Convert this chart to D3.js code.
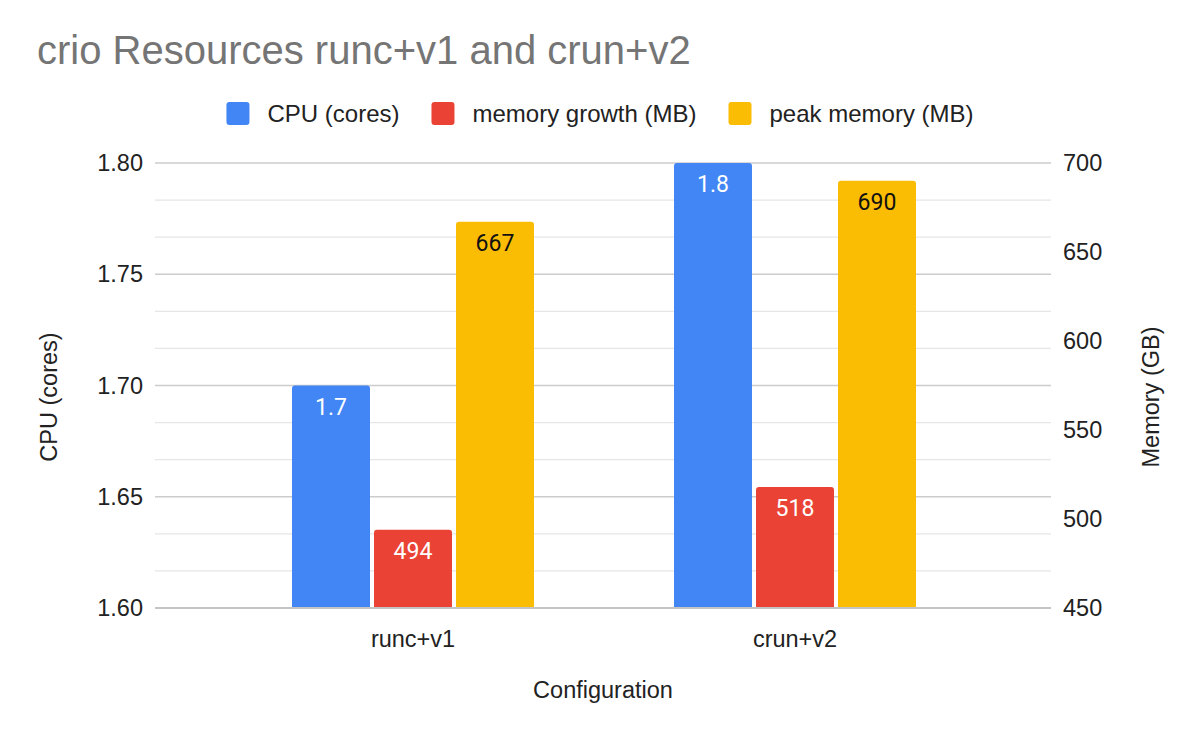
<!DOCTYPE html>
<html>
<head>
<meta charset="utf-8">
<script src="https://cdn.jsdelivr.net/npm/d3@7"></script>
<style>
  html, body { margin: 0; padding: 0; background: #fff; }
  svg { display: block; font-family: "Liberation Sans", Arial, sans-serif; }
</style>
</head>
<body>
<svg id="chart" width="1200" height="742"></svg>
<script>
// ---- data ----
const categories = ["runc+v1", "crun+v2"];
const seriesNames = ["CPU (cores)", "memory growth (MB)", "peak memory (MB)"];
const seriesColors = ["#4285F4", "#EA4335", "#FBBC04"];
const seriesAxis = ["left", "right", "right"];
const cpuValues = [1.7, 1.8];
const memGrowthValues = [494, 518];
const peakMemValues = [667, 690];
const leftTicks = [1.60, 1.65, 1.70, 1.75, 1.80];
const rightTicks = [450, 500, 550, 600, 650, 700];
const titleText = "crio Resources runc+v1 and crun+v2";
const xTitle = "Configuration";
const yLeftTitle = "CPU (cores)";
const yRightTitle = "Memory (GB)";

const seriesValues = [cpuValues, memGrowthValues, peakMemValues];

// ---- layout ----
const FONT = "'Liberation Sans', Arial, sans-serif";
const svg = d3.select("#chart");
const plot = { left: 155, right: 1051, top: 163, bottom: 608 };

const yLeft = d3.scaleLinear().domain([1.60, 1.80]).range([plot.bottom, plot.top]);
const yRight = d3.scaleLinear().domain([450, 700]).range([plot.bottom, plot.top]);

const x0 = d3.scaleBand().domain(categories).range([222, 986]).padding(0);
const groupW = 242;
const x1 = d3.scaleBand().domain(d3.range(seriesNames.length)).range([0, groupW])
  .paddingInner(4 / 82).paddingOuter(0);

// ---- gridlines (major + minor) ----
const minorTicks = [];
for (let i = 0; i < leftTicks.length - 1; i++) {
  const a = leftTicks[i], b = leftTicks[i + 1];
  minorTicks.push(a + (b - a) / 3, a + 2 * (b - a) / 3);
}
svg.append("g").selectAll("line").data(minorTicks).join("line")
  .attr("x1", plot.left).attr("x2", plot.right)
  .attr("y1", d => yLeft(d)).attr("y2", d => yLeft(d))
  .attr("stroke", "#e6e6e6").attr("stroke-width", 1.3);
svg.append("g").selectAll("line").data(leftTicks).join("line")
  .attr("x1", plot.left).attr("x2", plot.right)
  .attr("y1", d => yLeft(d)).attr("y2", d => yLeft(d))
  .attr("stroke", "#cccccc").attr("stroke-width", 1.5);

// ---- bars ----
function topRounded(x, y, w, h, r) {
  r = Math.min(r, h, w / 2);
  return `M${x},${y + h}V${y + r}Q${x},${y} ${x + r},${y}H${x + w - r}Q${x + w},${y} ${x + w},${y + r}V${y + h}Z`;
}
const bars = [];
categories.forEach((c, ci) => {
  seriesNames.forEach((s, si) => {
    bars.push({ cat: c, si, value: seriesValues[si][ci] });
  });
});
const groupOffset = (x0.bandwidth() - groupW) / 2;
const scaleFor = si => seriesAxis[si] === "left" ? yLeft : yRight;

const barG = svg.append("g");
barG.selectAll("path").data(bars).join("path")
  .attr("d", d => {
    const xx = x0(d.cat) + groupOffset + x1(d.si);
    const yy = scaleFor(d.si)(d.value);
    return topRounded(xx, yy, x1.bandwidth(), plot.bottom - yy, 3);
  })
  .attr("fill", d => seriesColors[d.si]);

barG.selectAll("text").data(bars).join("text")
  .attr("x", d => x0(d.cat) + groupOffset + x1(d.si) + x1.bandwidth() / 2)
  .attr("y", d => scaleFor(d.si)(d.value) + 29)
  .attr("text-anchor", "middle")
  .attr("font-family", "Roboto, sans-serif")
  .attr("font-size", 23)
  .attr("fill", d => d.si === 2 ? "#111" : "#fff")
  .text(d => d.si === 0 ? d3.format(".1f")(d.value) : d3.format("d")(d.value));

// baseline
svg.append("line")
  .attr("x1", plot.left).attr("x2", plot.right)
  .attr("y1", yLeft(1.60)).attr("y2", yLeft(1.60))
  .attr("stroke", "#c4c4c4").attr("stroke-width", 2);

// ---- axes ----
const leftAxis = d3.axisLeft(yLeft).tickValues(leftTicks).tickFormat(d3.format(".2f")).tickSize(0).tickPadding(0);
svg.append("g").attr("transform", `translate(143,0)`).call(leftAxis)
  .call(g => g.select(".domain").remove())
  .call(g => g.selectAll("text").attr("font-size", 23.5).attr("fill", "#222").attr("font-family", FONT));

const rightAxis = d3.axisRight(yRight).tickValues(rightTicks).tickFormat(d3.format("d")).tickSize(0).tickPadding(0);
svg.append("g").attr("transform", `translate(1063,0)`).call(rightAxis)
  .call(g => g.select(".domain").remove())
  .call(g => g.selectAll("text").attr("font-size", 23.5).attr("fill", "#222").attr("font-family", FONT));

const bottomAxis = d3.axisBottom(x0).tickSize(0).tickPadding(0);
svg.append("g").attr("transform", `translate(0,${plot.bottom + 22})`).call(bottomAxis)
  .call(g => g.select(".domain").remove())
  .call(g => g.selectAll("text").attr("font-size", 23.5).attr("fill", "#222").attr("font-family", FONT));

// ---- titles ----
svg.append("text").attr("x", 37).attr("y", 64)
  .attr("font-family", FONT).attr("font-size", 40).attr("fill", "#757575").text(titleText);

svg.append("text").attr("x", 603).attr("y", 698)
  .attr("text-anchor", "middle").attr("font-family", FONT).attr("font-size", 23.5).attr("fill", "#222").text(xTitle);

svg.append("text").attr("transform", "translate(57,397) rotate(-90)")
  .attr("text-anchor", "middle").attr("font-family", FONT).attr("font-size", 23.5).attr("fill", "#222").text(yLeftTitle);

svg.append("text").attr("transform", "translate(1159,397) rotate(-90)")
  .attr("text-anchor", "middle").attr("font-family", FONT).attr("font-size", 23.5).attr("fill", "#222").text(yRightTitle);

// ---- legend ----
const legend = svg.append("g");
const items = legend.selectAll("g").data(seriesNames).join("g");
items.append("rect").attr("width", 23).attr("height", 23).attr("rx", 3).attr("y", 102)
  .attr("fill", (d, i) => seriesColors[i]);
items.append("text").attr("x", 41).attr("y", 122).attr("font-family", FONT)
  .attr("font-size", 24).attr("fill", "#222").text(d => d);
const widths = [];
items.each(function () {
  const w = d3.select(this).select("text").node().getComputedTextLength();
  widths.push(41 + w);
});
const totalW = d3.sum(widths) + 32 * (widths.length - 1);
let start = 600 - totalW / 2;
items.attr("transform", (d, i) => {
  const t = `translate(${start},0)`;
  start += widths[i] + 32;
  return t;
});
</script>
</body>
</html>
